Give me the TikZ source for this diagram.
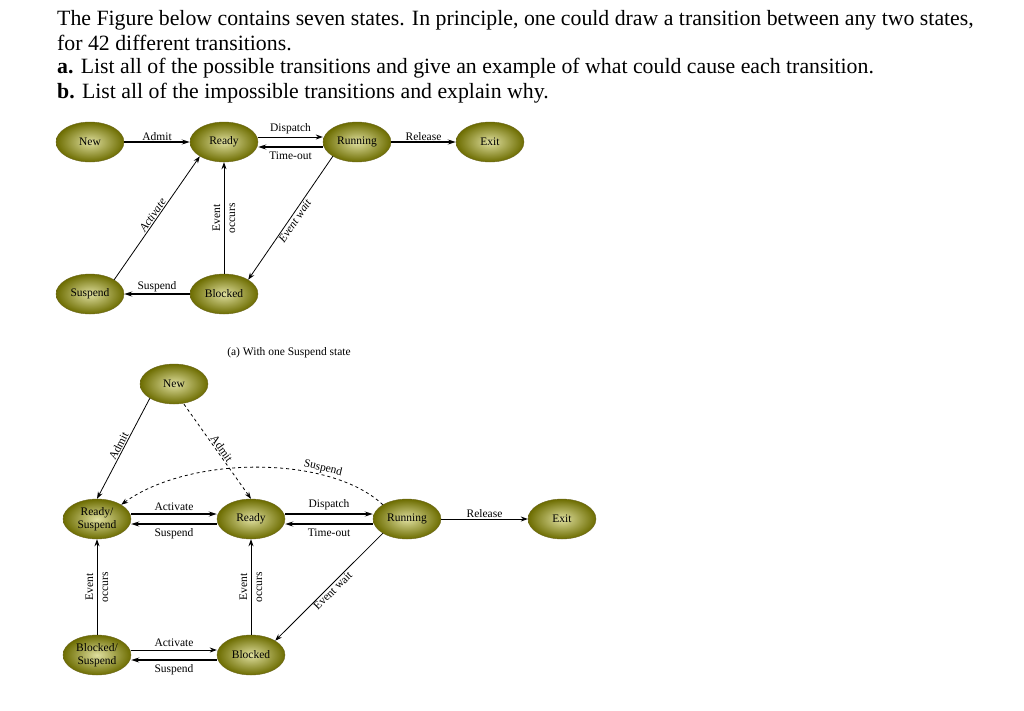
\documentclass[tikz,border=0pt]{standalone}
\usepackage{fontspec}
\setmainfont{Liberation Serif}
\usetikzlibrary{shapes.geometric,arrows.meta}
\begin{document}
\begin{tikzpicture}[x=1pt,y=-1pt,
  st/.style={ellipse,minimum width=68pt,minimum height=40pt,inner sep=0pt,inner color=olive!25!white,outer color=olive!85!black,draw=olive!70!black,font=\fontsize{11.5}{13}\selectfont,align=center},
  lb/.style={font=\fontsize{11.5}{15}\selectfont,inner sep=1pt,align=center},
  hd/.style={anchor=west,font=\fontsize{21.8}{21.8}\selectfont,inner sep=0pt},
  ar/.style={-{Stealth[length=7pt,width=5pt]},line width=0.8pt},
  thk/.style={-{Stealth[length=8pt,width=5pt]},line width=1.4pt}]
\useasboundingbox[fill=white] (0,0) rectangle (1024,710);
\node[hd] (h1) at (57,20) {The Figure below contains seven states. In principle, one could draw a transition between any two states,};
\node[hd] (h2) at (57,43) {for 42 different transitions.};
\node[hd] (h3) at (57,68) {\textbf{a.} List all of the possible transitions and give an example of what could cause each transition.};
\node[hd] (h4) at (57,93) {\textbf{b.} List all of the impossible transitions and explain why.};
% top diagram
\node[st] (n) at (90,142) {New};
\node[st] (r) at (224,142) {Ready};
\node[st] (ru) at (357,142) {Running};
\node[st] (e) at (490,142) {Exit};
\node[st] (s) at (90,294) {Suspend};
\node[st] (b) at (224,294) {Blocked};
\draw[thk] (n) -- node[lb,above] {Admit} (r);
\draw[ar] ([yshift=5]r.east) -- node[lb,above=2pt] {Dispatch} ([yshift=5]ru.west);
\draw[thk] ([yshift=-5]ru.west) -- node[lb,below=3pt] {Time-out} ([yshift=-5]r.east);
\draw[thk] (ru) -- node[lb,above] {Release} (e);
\draw[thk] (b) -- node[lb,above] {Suspend} (s);
\draw[ar] (s.north east) -- node[lb,above,sloped] {\itshape Activate} (r.south west);
\draw[ar] (b) -- node[lb,rotate=90] {Event\\occurs} (r);
\draw[ar] (ru.south west) -- node[lb,below,sloped] {\itshape Event wait} (b.north east);
\node[lb] (cap) at (289,353) {(a) With one Suspend state};
% bottom diagram
\node[st] (n2) at (174,384) {New};
\node[st] (rs) at (97,519) {Ready/\\Suspend};
\node[st] (r2) at (251,519) {Ready};
\node[st] (ru2) at (407,519) {Running};
\node[st] (e2) at (562,519) {Exit};
\node[st] (bs) at (97,655) {Blocked/\\Suspend};
\node[st] (b2) at (251,655) {Blocked};
\draw[ar] (n2.south west) -- node[lb,above,sloped] {Admit} (rs.north);
\draw[ar,dashed] ([xshift=10]n2.south) -- node[lb,above,sloped] {Admit} (r2.north);
\draw[ar,dashed] (ru2.north west) .. controls (330,455) and (190,455) .. (rs.north east) node[lb,above,sloped,pos=0.28] {Suspend};
\draw[thk] ([yshift=5]rs.east) -- node[lb,above=2pt] {Activate} ([yshift=5]r2.west);
\draw[thk] ([yshift=-5]r2.west) -- node[lb,below=3pt] {Suspend} ([yshift=-5]rs.east);
\draw[thk] ([yshift=5]r2.east) -- node[lb,above=2pt] {Dispatch} ([yshift=5]ru2.west);
\draw[thk] ([yshift=-5]ru2.west) -- node[lb,below=3pt] {Time-out} ([yshift=-5]r2.east);
\draw[ar] (ru2) -- node[lb,above] {Release} (e2);
\draw[ar] (bs) -- node[lb,rotate=90] {Event\\occurs} (rs);
\draw[ar] (b2) -- node[lb,rotate=90] {Event\\occurs} (r2);
\draw[ar] (ru2.south west) -- node[lb,below,sloped] {Event wait} (b2.north east);
\draw[ar] ([yshift=5]bs.east) -- node[lb,above=2pt] {Activate} ([yshift=5]b2.west);
\draw[thk] ([yshift=-5]b2.west) -- node[lb,below=3pt] {Suspend} ([yshift=-5]bs.east);
\end{tikzpicture}
\end{document}
